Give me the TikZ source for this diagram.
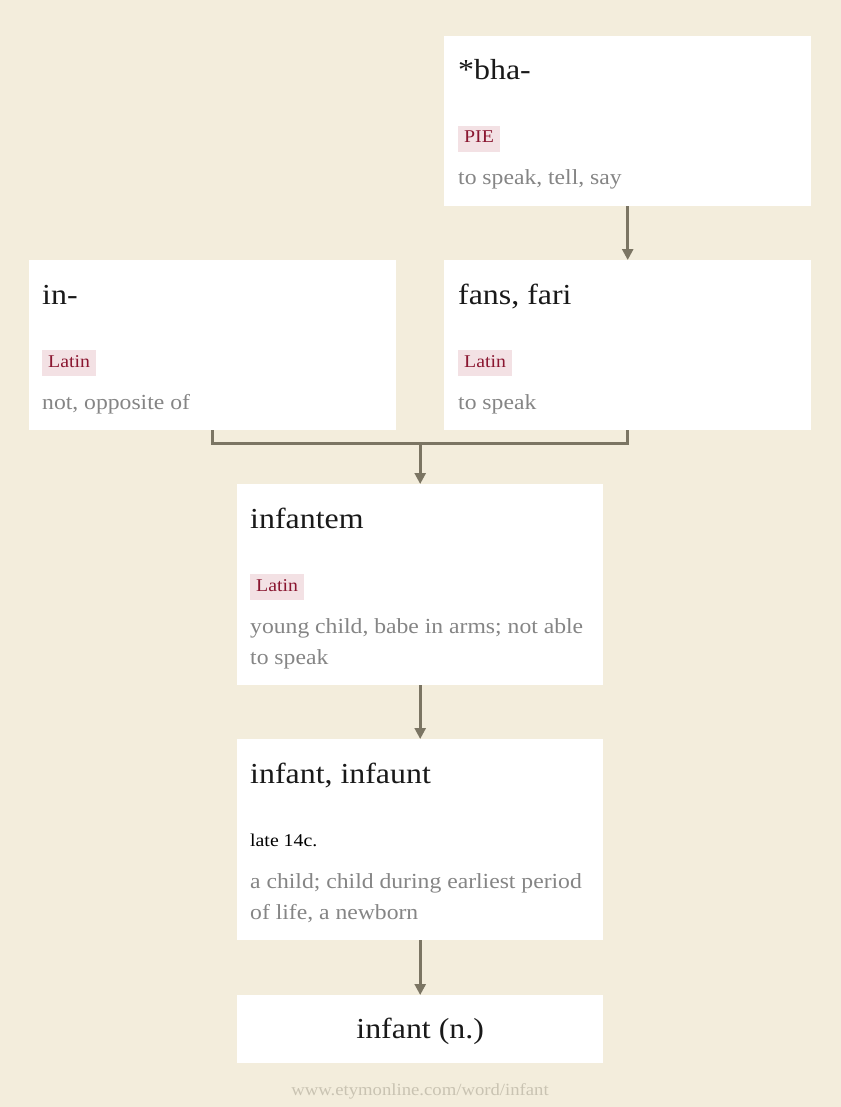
\documentclass[tikz,border=0pt]{standalone}
\usepackage{fontspec}
\setmainfont[FakeStretch=1.1]{Liberation Serif}
\usetikzlibrary{arrows.meta}
\definecolor{paper}{HTML}{F3EDDC}
\definecolor{link}{HTML}{7B7563}
\definecolor{tagbg}{HTML}{F3E1E4}
\definecolor{tagfg}{HTML}{8A1630}
\definecolor{glossfg}{HTML}{858585}
\definecolor{footfg}{HTML}{C9C3B2}
\tikzset{
  box/.style={fill=white, anchor=north west, minimum width=367pt, inner sep=0pt},
  word/.style={anchor=base west, inner sep=0pt, font=\fontsize{29}{33}\selectfont, text=black!90},
  tag/.style={anchor=base west, fill=tagbg, inner xsep=6pt, inner ysep=0pt, text height=17pt, text depth=9pt, font=\fontsize{18}{21}\selectfont, text=tagfg},
  date/.style={anchor=base west, inner sep=0pt, font=\fontsize{18}{21}\selectfont, text=black},
  gloss/.style={anchor=base west, inner sep=0pt, align=left, font=\fontsize{21.5}{31}\selectfont, text=glossfg},
  link/.style={draw=link, line width=2.6pt, -{Triangle[width=11pt,length=11pt]}},
}
\begin{document}
\begin{tikzpicture}[x=1pt, y=-1pt]
\useasboundingbox (0,0) rectangle (840,1107);
\fill [paper] (-10,-10) rectangle (850,1117);

\node [box, minimum height=170pt] (bha) at (444,36) {};
\node [box, minimum height=170pt] (in) at (29,260) {};
\node [box, minimum height=170pt] (fans) at (444,260) {};
\node [box, minimum height=201pt, minimum width=366pt] (infantem) at (237,484) {};
\node [box, minimum height=201pt, minimum width=366pt] (infaunt) at (237,739) {};
\node [box, minimum height=68pt, minimum width=366pt] (infant) at (237,995) {};

\node [word] (bhaw) at ([shift={(14,44)}]bha.north west) {*bha-};
\node [tag] (bhat) at ([shift={(14,107)}]bha.north west) {PIE};
\node [gloss] (bhag) at ([shift={(14,149)}]bha.north west) {to speak, tell, say};

\node [word] (inw) at ([shift={(13,44)}]in.north west) {in-};
\node [tag] (int) at ([shift={(13,107)}]in.north west) {Latin};
\node [gloss] (ing) at ([shift={(13,149)}]in.north west) {not, opposite of};

\node [word] (fansw) at ([shift={(14,44)}]fans.north west) {fans, fari};
\node [tag] (fanst) at ([shift={(14,107)}]fans.north west) {Latin};
\node [gloss] (fansg) at ([shift={(14,149)}]fans.north west) {to speak};

% two-line glosses sit on their last line
\node [word] (infantemw) at ([shift={(13,44)}]infantem.north west) {infantem};
\node [tag] (infantemt) at ([shift={(13,107)}]infantem.north west) {Latin};
\node [gloss] (infantemg) at ([shift={(13,180)}]infantem.north west) {young child, babe in arms; not able\\to speak};

\node [word] (infauntw) at ([shift={(13,44)}]infaunt.north west) {infant, infaunt};
\node [date] (infauntd) at ([shift={(13,107)}]infaunt.north west) {late 14c.};
\node [gloss] (infauntg) at ([shift={(13,180)}]infaunt.north west) {a child; child during earliest period\\of life, a newborn};

\node [word, anchor=base] (infantw) at ([shift={(0,43)}]infant.north) {infant (n.)};

\node [anchor=base, inner sep=0pt, font=\fontsize{17}{20}\selectfont, text=footfg] (url) at (420,1095) {www.etymonline.com/word/infant};

\coordinate (join) at ([shift={(0,13)}]in.south -| infantem.north);
\draw [link] (bha) -- (fans);
\draw [draw=link, line width=2.6pt] (in.south) -- ++(0,13) -| (fans.south);
\draw [link] (join) -- (infantem);
\draw [link] (infantem) -- (infaunt);
\draw [link] (infaunt) -- (infant);
\end{tikzpicture}
\end{document}
